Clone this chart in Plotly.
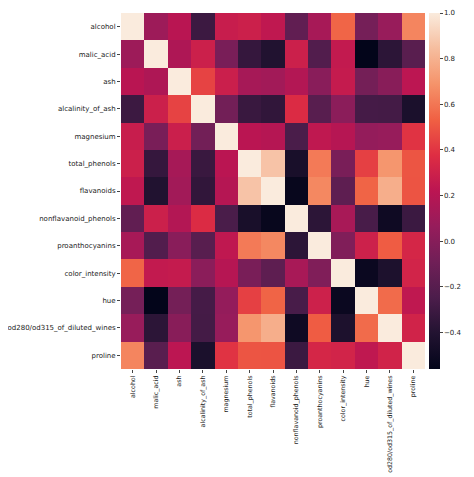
import plotly.graph_objects as go

labels = ["alcohol","malic_acid","ash","alcalinity_of_ash","magnesium","total_phenols","flavanoids",
          "nonflavanoid_phenols","proanthocyanins","color_intensity","hue","od280/od315_of_diluted_wines","proline"]
corr = [
 [1,0.094,0.212,-0.310,0.271,0.289,0.237,-0.156,0.137,0.546,-0.072,0.072,0.644],
 [0.094,1,0.164,0.289,-0.055,-0.335,-0.411,0.293,-0.221,0.249,-0.561,-0.369,-0.192],
 [0.212,0.164,1,0.443,0.287,0.129,0.115,0.186,0.010,0.259,-0.075,0.004,0.224],
 [-0.310,0.289,0.443,1,-0.083,-0.321,-0.351,0.362,-0.197,0.019,-0.274,-0.277,-0.441],
 [0.271,-0.055,0.287,-0.083,1,0.214,0.196,-0.256,0.237,0.200,0.055,0.066,0.393],
 [0.289,-0.335,0.129,-0.321,0.214,1,0.865,-0.450,0.612,-0.055,0.434,0.700,0.498],
 [0.237,-0.411,0.115,-0.351,0.196,0.865,1,-0.538,0.653,-0.172,0.543,0.787,0.494],
 [-0.156,0.293,0.186,0.362,-0.256,-0.450,-0.538,1,-0.366,0.139,-0.263,-0.503,-0.311],
 [0.137,-0.221,0.010,-0.197,0.237,0.612,0.653,-0.366,1,-0.025,0.296,0.519,0.330],
 [0.546,0.249,0.259,0.019,0.200,-0.055,-0.172,0.139,-0.025,1,-0.522,-0.429,0.316],
 [-0.072,-0.561,-0.075,-0.274,0.055,0.434,0.543,-0.263,0.296,-0.522,1,0.565,0.236],
 [0.072,-0.369,0.004,-0.277,0.066,0.700,0.787,-0.503,0.519,-0.429,0.565,1,0.313],
 [0.644,-0.192,0.224,-0.441,0.393,0.498,0.494,-0.311,0.330,0.316,0.236,0.313,1],
]

rocket = [[0.0,"#03051A"],[0.1,"#221331"],[0.2,"#4C1D4B"],[0.3,"#701F57"],[0.4,"#961C5B"],
          [0.5,"#BB1552"],[0.6,"#DE2D43"],[0.7,"#F06043"],[0.8,"#F5936A"],[0.9,"#F6BD9E"],[1.0,"#FAEBDD"]]

fig = go.Figure(go.Heatmap(
    z=corr, x=labels, y=labels, colorscale=rocket,
    colorbar=dict(thickness=11, len=1.0, lenmode="fraction", y=0.5, yanchor="middle",
                  x=1.013, xanchor="left", xpad=0, ypad=0,
                  tickvals=[-0.4,-0.2,0,0.2,0.4,0.6,0.8,1.0],
                  ticktext=["−0.4","−0.2","0.0","0.2","0.4","0.6","0.8","1.0"],
                  ticks="outside", ticklen=3, outlinewidth=0,
                  tickfont=dict(size=7, color="#222")),
))
fig.update_layout(
    width=474, height=477, margin=dict(l=113, r=57, t=5, b=116, autoexpand=False),
    plot_bgcolor="white", paper_bgcolor="white",
    font=dict(family="DejaVu Sans", size=7, color="#222"),
    xaxis=dict(tickangle=-90, showgrid=False, ticks="outside", ticklen=3, zeroline=False,
               tickfont=dict(size=6.3)),
    yaxis=dict(autorange="reversed", showgrid=False, ticks="outside", ticklen=3, zeroline=False),
)
fig.write_html("out.html")
